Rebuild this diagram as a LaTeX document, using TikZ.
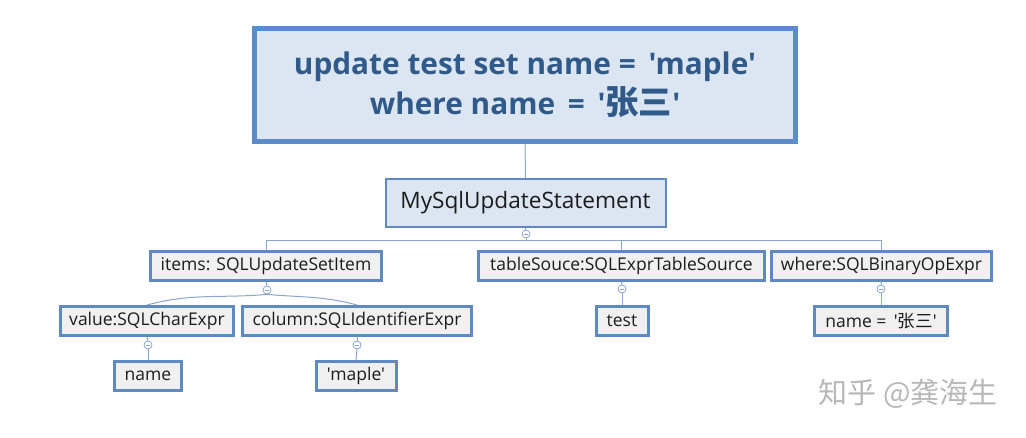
\documentclass[tikz,border=0pt]{standalone}
\usepackage{fontspec}
\setmainfont{Open Sans}[Ligatures=TeXOff]
\newfontfamily\cjk{Noto Sans CJK SC}[Ligatures=TeXOff]
\newfontfamily\cjkbig{Noto Sans CJK SC}[Ligatures=TeXOff, Scale=1.12]
\definecolor{topborder}{HTML}{5B8BC9}
\definecolor{topfill}{HTML}{DCE6F2}
\definecolor{toptext}{HTML}{2F5A8A}
\definecolor{boxborder}{HTML}{6089BF}
\definecolor{boxfill}{HTML}{F0F0F0}
\definecolor{linecol}{HTML}{8AA6C8}
\definecolor{txt}{HTML}{1C1C1C}
\tikzset{
  topbox/.style={draw=topborder, fill=topfill, line width=5pt, inner sep=0pt,
    minimum width=541pt, minimum height=113pt, align=center, text=toptext,
    font=\fontsize{29.8}{40}\selectfont\bfseries},
  rootbox/.style={draw=boxborder, fill=topfill, line width=2pt, inner sep=0pt,
    minimum width=280pt, minimum height=48pt, text=txt,
    font=\fontsize{22.6}{26}\selectfont},
  leaf/.style={draw=boxborder, fill=boxfill, line width=3pt, inner sep=0pt,
    minimum height=29pt, text=txt, font=\fontsize{17.5}{20}\selectfont},
  knob/.style={circle, draw=linecol, fill=white, line width=0.8pt, inner sep=0pt,
    minimum size=8pt, path picture={\draw[linecol, line width=0.7pt]
      ([xshift=-2.2pt]path picture bounding box.center) -- ([xshift=2.2pt]path picture bounding box.center);}},
  conn/.style={draw=linecol, line width=1pt},
}
\begin{document}
\begin{tikzpicture}[x=1pt,y=-1pt]
\useasboundingbox (0,0) rectangle (1026,437);
\fill[white] (0,0) rectangle (1026,437);

\node[topbox] (top) at (525,85) {update test set name = \,'maple'\\where name \,= \,'{\cjkbig\bfseries 张三}'};
\node[rootbox] (root) at (525.5,203) {MySqlUpdateStatement};
\node[knob] (k0) at (526,234) {};

\node[leaf, minimum width=231pt] (items) at (266,266) {items: SQLUpdateSetItem};
\node[leaf, minimum width=286pt] (ts) at (621.5,266) {tableSouce:SQLExprTableSource};
\node[leaf, minimum width=220pt] (where) at (881.5,266) {where:SQLBinaryOpExpr};

\node[knob] (k1) at (267,290) {};
\node[knob] (k2) at (622,289) {};
\node[knob] (k3) at (881,289) {};

\node[leaf, minimum width=173pt] (value) at (147,321) {value:SQLCharExpr};
\node[leaf, minimum width=229pt] (column) at (357,321) {column:SQLIdentifierExpr};
\node[leaf, minimum width=52pt] (test) at (622,321) {test};
\node[leaf, minimum width=133pt] (nm) at (881,321) {name = \,'{\cjk 张三}'};

\node[knob] (k4) at (148,345) {};
\node[knob] (k5) at (357,345) {};

\node[leaf, minimum width=67pt] (name) at (148,376) {name};
\node[leaf, minimum width=80pt] (maple) at (356,376) {'maple'};

\coordinate (bus) at (526,240);

\draw[conn] (top.south) -- (root.north);
\draw[conn] (root.south) -- (k0.north);
\draw[conn] (k0.south) -- (bus);
\draw[conn] (items.north) -- (items.north |- bus) -- (where.north |- bus) -- (where.north);
\draw[conn] (ts.north |- bus) -- (ts.north);

\draw[conn] (items.south) -- (k1.north);
\draw[conn] (k1.south) to[out=185,in=15] (value.north);
\draw[conn] (k1.south) to[out=-5,in=165] (column.north);

\draw[conn] (ts.south) -- (k2.north);
\draw[conn] (k2.south) -- (test.north);
\draw[conn] (where.south) -- (k3.north);
\draw[conn] (k3.south) -- (nm.north);

\draw[conn] (value.south) -- (k4.north);
\draw[conn] (k4.south) -- (name.north);
\draw[conn] (column.south) -- (k5.north);
\draw[conn] (k5.south) -- (maple.north);

\node[text=black!28, font=\cjk\fontsize{29}{32}\selectfont, anchor=west] (wm) at (815,394) {知乎 @龚海生};
\end{tikzpicture}
\end{document}
